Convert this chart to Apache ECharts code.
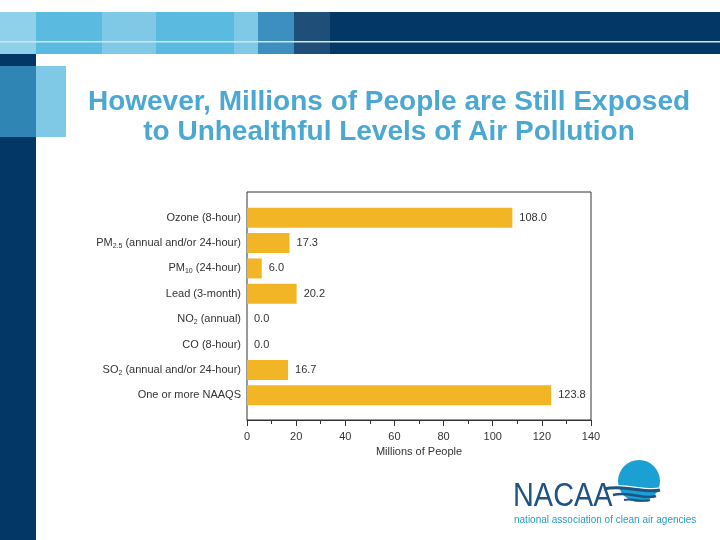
<!DOCTYPE html>
<html>
<head>
<meta charset="utf-8">
<script src="https://cdn.jsdelivr.net/npm/echarts@6/dist/echarts.min.js"></script>
<style>
  html, body { margin: 0; padding: 0; background: #fff; }
  #main { width: 720px; height: 540px; }
</style>
</head>
<body>
<div id="main"></div>
<script>
// data
const categories = [
  'Ozone (8-hour)',
  'PM2.5 (annual and/or 24-hour)',
  'PM10 (24-hour)',
  'Lead (3-month)',
  'NO2 (annual)',
  'CO (8-hour)',
  'SO2 (annual and/or 24-hour)',
  'One or more NAAQS'
];
const people = [108.0, 17.3, 6.0, 20.2, 0.0, 0.0, 16.7, 123.8];
const xTicks = [0, 20, 40, 60, 80, 100, 120, 140];

const titleText = 'However, Millions of People are Still Exposed\nto Unhealthful Levels of Air Pollution';
const font = '"Liberation Sans", Arial, sans-serif';

// subscripts for the pollutant names
function richName(name) {
  return name
    .replace('PM2.5', 'PM{sub|2.5}')
    .replace('PM10', 'PM{sub|10}')
    .replace('NO2', 'NO{sub|2}')
    .replace('SO2', 'SO{sub|2}');
}

// slide decoration (top band + left strip)
const band = [
  [0, 36, '#8fd0ea'], [36, 66, '#5bbadf'], [102, 54, '#7fc9e6'],
  [156, 78, '#5bbadf'], [234, 24, '#7fc9e6'], [258, 36, '#3d8fbf'],
  [294, 36, '#1f4e79'], [330, 390, '#033866']
];
const deco = band.map(b => ({
  type: 'rect', shape: { x: b[0], y: 12, width: b[1], height: 42 },
  style: { fill: b[2] }, silent: true
}));
deco.push(
  { type: 'rect', shape: { x: 0, y: 41, width: 720, height: 1.5 }, style: { fill: '#cfe6f2' }, silent: true },
  { type: 'rect', shape: { x: 0, y: 54, width: 36, height: 486 }, style: { fill: '#033866' }, silent: true },
  { type: 'rect', shape: { x: 0, y: 66, width: 36, height: 71 }, style: { fill: '#2f86b5' }, silent: true },
  { type: 'rect', shape: { x: 36, y: 66, width: 30, height: 71 }, style: { fill: '#7fc9e6' }, silent: true },
  // plot frame
  { type: 'rect', shape: { x: 247, y: 192, width: 344, height: 228 },
    style: { fill: 'none', stroke: '#333', lineWidth: 1 }, silent: true },
  // logo
  { type: 'circle', shape: { cx: 639, cy: 481, r: 21 }, style: { fill: '#1ba0d4' }, silent: true },
  { type: 'bezierCurve', shape: { x1: 604, y1: 487, x2: 660, y2: 488, cpx1: 625, cpy1: 482, cpx2: 645, cpy2: 492 },
    style: { stroke: '#fff', lineWidth: 1.5, fill: 'none' }, silent: true },
  { type: 'bezierCurve', shape: { x1: 604, y1: 489, x2: 660, y2: 490, cpx1: 625, cpy1: 484, cpx2: 645, cpy2: 494 },
    style: { stroke: '#1e5382', lineWidth: 3, fill: 'none' }, silent: true },
  { type: 'bezierCurve', shape: { x1: 613, y1: 495, x2: 656, y2: 496, cpx1: 630, cpy1: 491, cpx2: 645, cpy2: 500 },
    style: { stroke: '#1e5382', lineWidth: 2.5, fill: 'none' }, silent: true },
  { type: 'bezierCurve', shape: { x1: 624, y1: 500, x2: 650, y2: 500, cpx1: 633, cpy1: 498, cpx2: 642, cpy2: 503 },
    style: { stroke: '#1e5382', lineWidth: 2, fill: 'none' }, silent: true },
  { type: 'text', x: 513, y: 497, scaleX: 0.85,
    style: { text: 'NACAA', fill: '#1e5382', font: '34px ' + font, verticalAlign: 'middle' }, silent: true },
  { type: 'text', x: 514, y: 520,
    style: { text: 'national association of clean air agencies', fill: '#2b9cc4', font: '10px ' + font, verticalAlign: 'middle' }, silent: true }
);

var myChart = echarts.init(document.getElementById('main'));
myChart.setOption({
  backgroundColor: '#fff',
  animation: false,
  title: {
    text: titleText,
    left: 384,
    top: 82,
    textAlign: 'center',
    textStyle: {
      color: '#4aa8d2',
      fontFamily: font,
      fontWeight: 'bold',
      fontSize: 28,
      lineHeight: 30
    }
  },
  grid: { left: 247, right: 129, top: 205, bottom: 132 },
  xAxis: {
    type: 'value',
    min: 0,
    max: 140,
    interval: 20,
    offset: 12,
    name: 'Millions of People',
    nameLocation: 'middle',
    nameGap: 26,
    nameTextStyle: { color: '#333', fontFamily: font, fontSize: 11 },
    axisLine: { show: true, lineStyle: { color: '#333' } },
    axisTick: { show: true, length: 6, lineStyle: { color: '#333' } },
    minorTick: { show: true, splitNumber: 2, length: 4, lineStyle: { color: '#333' } },
    splitLine: { show: false },
    axisLabel: {
      color: '#333', fontFamily: font, fontSize: 11, margin: 11,
      formatter: v => xTicks.includes(v) ? String(v) : ''
    }
  },
  yAxis: {
    type: 'category',
    data: categories,
    inverse: true,
    axisLine: { show: false },
    axisTick: { show: false },
    axisLabel: {
      margin: 6,
      color: '#333',
      fontFamily: font,
      fontSize: 11,
      formatter: v => richName(v),
      rich: {
        sub: { fontSize: 7, color: '#333', fontFamily: font, verticalAlign: 'bottom', padding: [6, 0, 0, 0] }
      }
    }
  },
  series: [{
    type: 'bar',
    data: people,
    barWidth: 20,
    itemStyle: { color: '#f2b526' },
    label: {
      show: true,
      position: 'right',
      distance: 7,
      color: '#333',
      fontFamily: font,
      fontSize: 11,
      formatter: p => p.value.toFixed(1)
    }
  }],
  graphic: deco
});
</script>
</body>
</html>
